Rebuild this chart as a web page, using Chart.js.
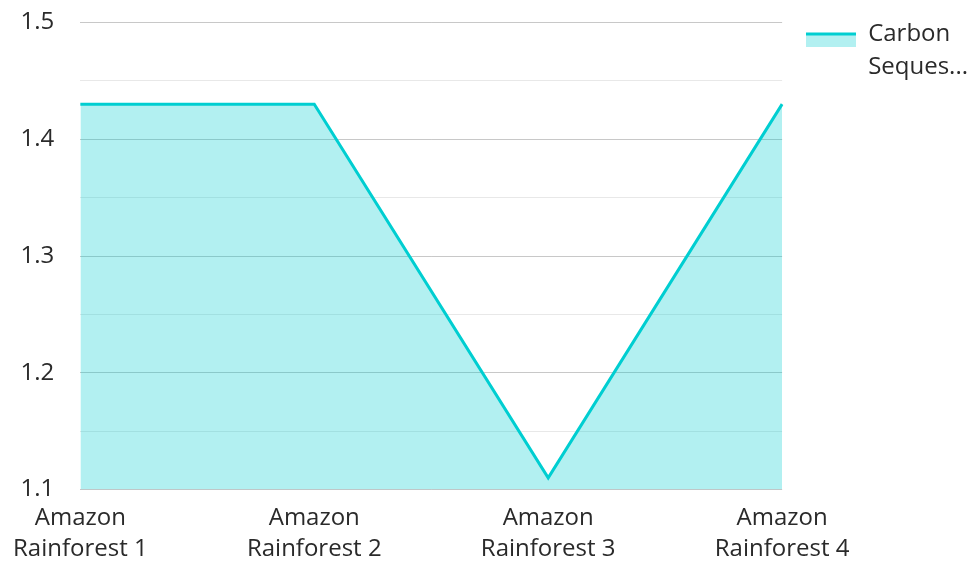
<!DOCTYPE html>
<html lang="en">
<head>
    <meta charset="UTF-8">
    <title>Carbon Sequestration</title>
    <script src="https://cdn.jsdelivr.net/npm/chart.js"></script>
    <style>
        html, body { margin: 0; padding: 0; background: #fff; }
        #wrap { width: 972px; height: 563px; }
    </style>
</head>
<body>
    <div id="wrap"><canvas id="carbonChart"></canvas></div>

    <script>
        const sites = [
            ['Amazon', 'Rainforest 1'],
            ['Amazon', 'Rainforest 2'],
            ['Amazon', 'Rainforest 3'],
            ['Amazon', 'Rainforest 4']
        ];
        const sequestration = [1.43, 1.43, 1.11, 1.43];
        const seriesName = 'Carbon Sequestration';
        const legendLines = ['Carbon', 'Seques...'];
        const yMin = 1.1;
        const yMax = 1.5;

        const lineColor = '#00CED1';
        const fillColor = 'rgba(0, 206, 209, 0.3)';

        // legend swatch: thick line on top of the fill colour,
        // drawn in the lower part so it sits a bit below the first text line
        const swatch = document.createElement('canvas');
        swatch.width = 50;
        swatch.height = 25;
        const sctx = swatch.getContext('2d');
        sctx.fillStyle = fillColor;
        sctx.fillRect(0, 11, 50, 14);
        sctx.fillStyle = lineColor;
        sctx.fillRect(0, 11, 50, 3);

        Chart.defaults.font.family = '"Open Sans", sans-serif';
        Chart.defaults.font.size = 24;
        Chart.defaults.color = '#2a2a2a';

        const ctx = document.getElementById('carbonChart').getContext('2d');
        new Chart(ctx, {
            type: 'line',
            data: {
                labels: sites,
                datasets: [{
                    label: seriesName,
                    data: sequestration,
                    borderColor: lineColor,
                    backgroundColor: fillColor,
                    borderWidth: 3,
                    fill: 'start',
                    tension: 0,
                    pointRadius: 0
                }]
            },
            options: {
                responsive: true,
                maintainAspectRatio: false,
                animation: false,
                layout: { padding: { top: -2, right: -6, bottom: -15, left: -11 } },
                plugins: {
                    tooltip: { enabled: false },
                    legend: {
                        position: 'right',
                        align: 'start',
                        labels: {
                            usePointStyle: true,
                            pointStyleWidth: 50,
                            padding: 24,
                            font: { size: 24, lineHeight: 1.4 },
                            generateLabels: (chart) => [{
                                text: legendLines,
                                pointStyle: swatch,
                                fillStyle: fillColor,
                                strokeStyle: lineColor,
                                lineWidth: 0,
                                fontColor: '#2a2a2a',
                                datasetIndex: 0
                            }]
                        }
                    }
                },
                scales: {
                    x: {
                        offset: false,
                        grid: { display: false, drawTicks: false },
                        border: { display: false },
                        ticks: {
                            maxRotation: 0,
                            autoSkip: false,
                            padding: 13,
                            font: { size: 24, lineHeight: 1.3 }
                        }
                    },
                    y: {
                        min: yMin,
                        max: yMax,
                        border: { display: false },
                        grid: {
                            drawTicks: true,
                            tickLength: 18,
                            tickColor: 'transparent',
                            lineWidth: 1,
                            color: (c) => Math.round(c.tick.value * 100) % 10 === 0 ? '#c8c8c8' : '#e8e8e8'
                        },
                        ticks: {
                            stepSize: 0.05,
                            padding: 8,
                            callback: (v) => Math.round(v * 100) % 10 === 0 ? v.toFixed(1) : ''
                        }
                    }
                }
            }
        });
    </script>
</body>
</html>
